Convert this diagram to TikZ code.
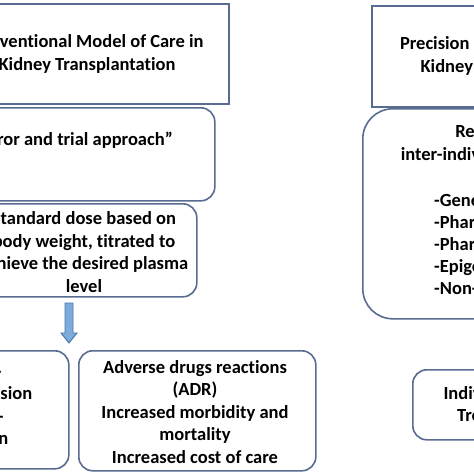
\documentclass[tikz,border=0pt]{standalone}
\usepackage{fontspec}
\setmainfont{Carlito}[Ligatures=CommonOff]
\usetikzlibrary{calc}
\definecolor{bordercol}{RGB}{88,108,145}
\definecolor{arrowfill}{RGB}{125,172,218}
\definecolor{arrowline}{RGB}{70,118,175}
\begin{document}
\begin{tikzpicture}[x=1pt,y=-1pt,
  box/.style={draw=bordercol, line width=1.6pt, fill=white, inner sep=0pt, anchor=north west},
  rbox/.style={box, rounded corners=14pt},
  bigrbox/.style={box, rounded corners=30pt},
  txt/.style={font=\fontsize{18.5}{22.5}\selectfont\bfseries, align=center, inner sep=0pt, text=black},
  listtxt/.style={font=\fontsize{18.5}{22}\selectfont\bfseries, align=left, inner sep=0pt, text=black, anchor=west},
  blockarrow/.style={draw=arrowline, line width=0.9pt, fill=arrowfill, line join=miter},
]
\useasboundingbox (0,0) rectangle (474,474);
\clip (0,0) rectangle (474,474);
\fill[white] (0,0) rectangle (474,474);

% left column
\node[box, minimum width=282pt, minimum height=100pt] (boxA) at (-54,3) {};
\node[txt] (tA) at (87,54) {Conventional Model of Care in\\Kidney Transplantation};

\node[rbox, minimum width=270pt, minimum height=93pt] (boxB) at (-56,107) {};
\node[txt, anchor=east] (tB) at (173,140) {“Error and trial approach”};

\node[rbox, minimum width=222pt, minimum height=93pt] (boxC) at (-26,203) {};
\node[txt] (tC) at (84,252) {Standard dose based on\\body weight, titrated to\\achieve the desired plasma\\level};

\coordinate (arrTop) at (69,303);
\coordinate (arrTip) at (69,343);
\draw[blockarrow] ($(arrTop)+(-4,0)$) -- ($(arrTop)+(4,0)$) -- ($(arrTip)+(4,-10)$) -- ($(arrTip)+(8,-10)$) -- (arrTip) -- ($(arrTip)+(-8,-10)$) -- ($(arrTip)+(-4,-10)$) -- cycle;

\node[rbox, minimum width=218pt, minimum height=118pt] (boxD) at (-150,350) {};
\node[txt] (tD) at (-46,406) {Under/over-\\immunosuppression\\Toxicity/allo-\\graft rejection};

\node[rbox, minimum width=237pt, minimum height=120pt] (boxE) at (78,350) {};
\node[txt] (tE) at (195,412) {Adverse drugs reactions\\(ADR)\\Increased morbidity and\\mortality\\Increased cost of care};

% right column
\node[box, minimum width=270pt, minimum height=101pt] (boxF) at (371,5) {};
\node[txt] (tF) at (509,56) {Precision Medicine Model in\\Kidney Transplantation};

\node[bigrbox, minimum width=280pt, minimum height=210pt] (boxG) at (362,108) {};
\node[txt] (tG) at (500,144) {Reasons for\\inter-individual variability};
\node[listtxt] (lG) at (434,246) {-Genetics\\-Pharmacokinetics\\-Pharmacodynamics\\-Epigenetics\\-Non-genetic factors};

\node[rbox, minimum width=200pt, minimum height=70pt] (boxH) at (412,369) {};
\node[txt] (tH) at (497,404) {Individualized\\Treatment};
\end{tikzpicture}
\end{document}
